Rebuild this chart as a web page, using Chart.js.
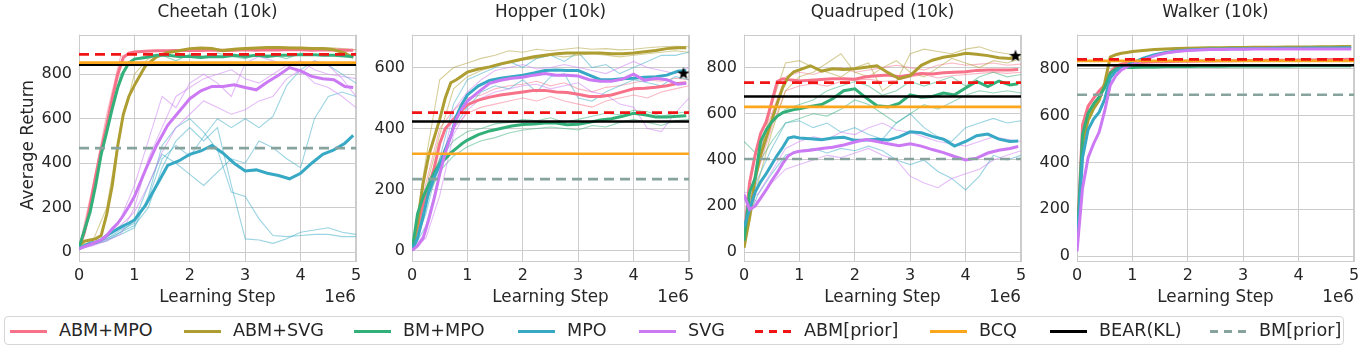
<!DOCTYPE html>
<html><head><meta charset="utf-8">
<script src="https://cdn.jsdelivr.net/npm/chart.js@4"></script>
<style>
body{margin:0;background:#fff;width:1360px;height:348px;position:relative;overflow:hidden;font-family:"DejaVu Sans",sans-serif;color:#262626}
canvas{position:absolute}
.t{position:absolute;font-size:16.8px;white-space:nowrap;line-height:1;color:#262626}
#legend{position:absolute;left:4px;top:316px;width:1340px;height:29px;border:1px solid #d6d6d6;border-radius:4px;box-sizing:border-box}
.ls{position:absolute;height:3px;width:37px;top:330px}
.lt{position:absolute;top:331px;font-size:17.6px;line-height:1;transform:translateY(-50%);white-space:nowrap;color:#262626}
</style></head><body>
<div id="legend"></div>
<script>
// ---------- data ----------
const X_MEAN = [0,0.1,0.2,0.3,0.4,0.5,0.6,0.7,0.8,0.9,1.0,1.2,1.4,1.6,1.8,2.0,2.2,2.4,2.6,2.8,3.0,3.2,3.4,3.6,3.8,4.0,4.2,4.4,4.6,4.8,4.95];
const X_SEED = [0,0.25,0.5,0.75,1.0,1.25,1.5,1.75,2.0,2.25,2.5,2.75,3.0,3.25,3.5,3.75,4.0,4.25,4.5,4.75,5.0];
const X_TICKS = [0,1,2,3,4,5];
const Y_TICKS_800 = [0,200,400,600,800];
const Y_TICKS_600 = [0,200,400,600];

const METHODS = ['ABM+MPO','ABM+SVG','BM+MPO','MPO','SVG'];
const METHOD_COLORS = ['#f77189','#ae9d31','#33b07a','#38a9c5','#cc7af4'];
const BASELINES = ['ABM[prior]','BCQ','BEAR(KL)','BM[prior]'];
const BASELINE_COLORS = ['#f01414','#fca61e','#000000','#86a39e'];
const BASELINE_DASHED = [true,false,false,true];

const TITLES = ['Cheetah (10k)','Hopper (10k)','Quadruped (10k)','Walker (10k)'];

// Cheetah means
const CH_ABM_MPO = [20,90,210,340,460,570,690,800,875,895,900, 903,905,905,906,908, 907,909,906,908,910, 908,910,909,911,910, 908,910,909,908,908];
const CH_ABM_SVG = [30,50,55,60,75,170,300,480,620,700,750, 838,878,898,905,915, 918,916,905,912,915, 918,920,920,918,918, 915,915,910,895,875];
const CH_BM_MPO  = [20,100,180,300,440,540,645,740,808,850,868, 875,885,885,880,880, 875,880,878,885,880, 885,880,885,885,888, 888,885,885,882,878];
const CH_MPO     = [15,30,40,45,55,75,90,105,118,130,145, 210,300,390,410,440, 455,480,445,400,365, 370,355,345,330,355, 400,440,460,490,525];
const CH_SVG     = [15,25,35,45,55,75,105,130,165,205,250, 370,480,570,630,690, 725,745,745,752,740, 730,765,795,830,815, 790,780,775,745,740];
const CH_BASE = [889,852,843,468];
// Cheetah seeds
const CH_SEEDS_ABM_MPO = [[20,300,620,880,900,905,905,910,908,912,910,908,910,912,915,912,910,912,910,912,910]];
const CH_SEEDS_ABM_SVG = [[30,50,200,560,800,870,890,900,905,910,912,915,918,920,920,922,920,918,920,915,910]];
const CH_SEEDS_BM_MPO  = [[20,250,540,800,870,880,885,860,890,880,895,880,870,890,885,870,895,890,885,890,885]];
const CH_SEEDS_MPO = [
  [15,40,60,90,120,200,380,500,560,500,560,300,60,55,40,60,90,100,110,90,80],
  [15,35,55,80,110,250,480,560,600,540,460,270,250,150,75,70,75,80,80,70,70],
  [15,40,60,100,130,240,420,480,430,520,600,560,600,560,610,750,820,860,840,800,760],
  [15,35,50,90,140,300,440,400,350,300,360,420,400,500,470,420,380,600,700,720,700]];
const CH_SEEDS_SVG = [
  [15,30,60,150,300,500,700,650,760,800,760,700,850,880,860,840,800,860,840,780,700],
  [15,35,70,120,180,300,450,560,620,680,650,620,640,680,700,780,820,760,740,700,650],
  [15,30,50,80,200,420,560,700,740,780,800,820,780,760,800,840,860,820,800,790,780]];

// Hopper means
const HO_ABM_MPO = [0,80,150,210,270,350,400,420,440,460,478, 493,503,510,515,520, 525,525,520,518,512, 505,505,510,520,530, 532,535,540,548,550];
const HO_ABM_SVG = [0,90,220,310,370,430,500,550,560,572,585, 595,602,612,620,628, 635,640,645,648,648, 648,648,645,645,648, 652,656,662,665,665];
const HO_BM_MPO  = [0,120,175,215,255,285,300,320,335,350,362, 380,392,400,408,413, 415,418,418,412,414, 420,428,432,440,450, 445,438,438,440,442];
const HO_MPO     = [0,40,110,190,240,280,330,375,440,480,510, 540,558,565,570,575, 582,590,592,590,590, 575,560,560,563,565, 568,570,575,588,590];
const HO_SVG     = [0,15,40,100,170,250,320,375,430,465,490, 520,548,558,565,568, 575,580,575,575,572, 560,555,555,562,578, 558,565,560,545,548];
const HO_BASE = [452,317,423,234];
const HO_SEEDS_ABM_MPO = [
  [0,220,400,460,500,510,530,540,545,555,540,550,530,520,535,540,550,560,555,565,560],
  [0,150,300,400,450,470,480,490,500,490,505,490,480,470,490,500,510,500,520,530,540]];
const HO_SEEDS_ABM_SVG = [
  [0,300,560,600,615,630,640,655,650,660,655,660,665,660,662,658,660,665,668,670,668],
  [0,200,380,530,570,590,605,615,625,630,640,635,640,645,640,635,640,645,650,655,650]];
const HO_SEEDS_BM_MPO = [
  [0,200,300,360,390,400,415,420,430,425,435,420,430,440,450,445,460,455,440,450,455],
  [0,160,260,310,340,360,370,385,395,400,405,400,395,410,405,420,430,420,410,425,430]];
const HO_SEEDS_MPO = [
  [0,120,300,480,560,580,600,620,600,630,640,620,650,600,610,580,600,620,640,640,650],
  [0,80,250,400,470,520,540,530,560,520,570,580,500,490,520,540,560,550,540,570,560]];
const HO_SEEDS_SVG = [
  [0,60,250,460,520,560,590,600,610,595,600,610,600,590,580,600,620,600,590,580,600],
  [0,40,180,380,460,500,520,530,540,545,530,540,550,520,510,480,470,400,390,450,500]];
const HO_STAR = [4.9, 580];

// Quadruped means
const QU_ABM_MPO = [60,300,420,515,565,650,740,752,748,745,742, 745,748,752,752,750, 760,765,768,760,768, 775,772,778,780,782, 788,790,790,790,792];
const QU_ABM_SVG = [20,150,320,420,495,570,645,715,760,782,790, 808,785,795,792,795, 802,808,778,752,765, 810,832,845,852,862, 858,852,843,840,850];
const QU_BM_MPO  = [50,260,320,480,530,565,590,605,612,618,622, 632,640,665,700,708, 670,635,630,645,682, 672,675,690,682,712, 740,718,742,725,730];
const QU_MPO     = [110,185,260,305,340,380,420,455,495,500,495, 492,488,495,498,485, 486,490,486,500,522, 518,502,490,460,480, 505,512,490,480,482];
const QU_SVG     = [250,185,200,235,270,310,345,385,418,432,438, 442,450,455,465,478, 488,480,470,462,470, 460,445,432,415,400, 408,430,442,450,458];
const QU_BASE = [735,630,675,404];
const QU_SEEDS_ABM_MPO = [
  [80,420,600,760,780,770,790,800,780,790,800,810,800,790,810,820,810,815,820,810,815],
  [40,350,540,700,720,730,720,740,745,750,740,745,760,770,755,765,770,775,780,775,780]];
const QU_SEEDS_ABM_SVG = [
  [20,380,640,820,830,800,780,760,800,820,700,740,860,880,870,860,880,890,870,860,850],
  [20,300,520,700,760,780,820,860,780,760,800,830,780,760,800,840,820,800,830,820,840]];
const QU_SEEDS_BM_MPO = [
  [480,420,560,620,640,660,700,720,740,720,680,700,740,720,740,760,720,760,780,760,770],
  [60,380,480,560,580,600,590,620,660,640,600,560,600,640,620,650,680,700,690,700,690]];
const QU_SEEDS_MPO = [
  [110,320,450,560,570,540,560,520,540,510,490,560,600,540,500,480,540,560,580,560,570],
  [100,250,340,420,440,450,430,450,440,460,440,400,380,400,350,320,270,330,420,400,420]];
const QU_SEEDS_SVG = [
  [240,220,300,360,380,400,420,410,430,450,420,400,330,300,280,320,340,360,400,420,440],
  [260,250,350,450,480,500,490,520,510,540,560,530,520,500,480,470,460,480,500,490,480]];
const QU_STAR = [4.9, 850];

// Walker means
const WA_ABM_MPO = [40,560,640,675,705,730,785,810,820,825,827, 828,830,830,832,832, 833,833,834,834,835, 835,836,836,837,838, 838,839,840,840,841];
const WA_ABM_SVG = [40,480,580,630,665,740,850,860,866,870,874, 878,882,885,887,888, 889,890,890,891,891, 892,892,892,893,893, 893,894,894,895,895];
const WA_BM_MPO  = [40,520,610,650,680,720,780,800,805,806,806, 808,808,810,810,810, 811,811,811,812,812, 812,812,812,812,813, 813,813,813,813,813];
const WA_MPO     = [40,420,540,585,615,670,760,790,805,815,825, 845,860,870,876,880, 882,884,885,886,886, 887,887,888,888,888, 889,889,889,890,890];
const WA_SVG     = [20,290,420,480,530,620,730,770,795,808,818, 838,855,867,874,878, 880,882,882,883,883, 884,884,884,884,885, 885,885,885,885,885];
const WA_BASE = [840,834,815,689];

// ---------- layout ----------
const PLOT_LEFTS = [79,412,744,1077];
const PLOT_W = 277, PLOT_TOP = 28, PLOT_H = 234;
const Y_RANGES = [[-44,978],[-38,708],[-42,943],[-25,946]];

const PANELS = [
  {means:[CH_ABM_MPO,CH_ABM_SVG,CH_BM_MPO,CH_MPO,CH_SVG], seeds:[CH_SEEDS_ABM_MPO,CH_SEEDS_ABM_SVG,CH_SEEDS_BM_MPO,CH_SEEDS_MPO,CH_SEEDS_SVG], base:CH_BASE, ticks:Y_TICKS_800, star:null},
  {means:[HO_ABM_MPO,HO_ABM_SVG,HO_BM_MPO,HO_MPO,HO_SVG], seeds:[HO_SEEDS_ABM_MPO,HO_SEEDS_ABM_SVG,HO_SEEDS_BM_MPO,HO_SEEDS_MPO,HO_SEEDS_SVG], base:HO_BASE, ticks:Y_TICKS_600, star:HO_STAR},
  {means:[QU_ABM_MPO,QU_ABM_SVG,QU_BM_MPO,QU_MPO,QU_SVG], seeds:[QU_SEEDS_ABM_MPO,QU_SEEDS_ABM_SVG,QU_SEEDS_BM_MPO,QU_SEEDS_MPO,QU_SEEDS_SVG], base:QU_BASE, ticks:Y_TICKS_800, star:QU_STAR},
  {means:[WA_ABM_MPO,WA_ABM_SVG,WA_BM_MPO,WA_MPO,WA_SVG], seeds:[[],[],[],[],[]], base:WA_BASE, ticks:Y_TICKS_800, star:null}
];

function pts(xs, ys){ return ys.map((y,i)=>({x:xs[i], y:y})); }
function alpha(hex, a){ const n=parseInt(hex.slice(1),16); return `rgba(${n>>16},${(n>>8)&255},${n&255},${a})`; }
function starImg(){
  const c=document.createElement('canvas'); c.width=c.height=14;
  const g=c.getContext('2d'); g.fillStyle='#000'; g.beginPath();
  for(let i=0;i<10;i++){ const r=i%2?2.7:6.6; const a=-Math.PI/2+i*Math.PI/5; g.lineTo(7+r*Math.cos(a),7+r*Math.sin(a)); }
  g.closePath(); g.fill(); return c;
}
const frame = {id:'frame', beforeDatasetsDraw(chart){
  const a=chart.chartArea, g=chart.ctx; g.save(); g.strokeStyle='#cccccc'; g.lineWidth=1;
  g.strokeRect(Math.round(a.left)+0.5, Math.round(a.top)+0.5, Math.round(a.right-a.left)-1, Math.round(a.bottom-a.top)-1); g.restore();
}};

function addText(txt, cx, cy, opts={}){
  const d=document.createElement('div'); d.className='t'; d.textContent=txt;
  d.style.left=cx+'px'; d.style.top=cy+'px';
  d.style.transform = opts.rot ? 'translate(-50%,-50%) rotate(-90deg)' : (opts.right ? 'translate(-100%,-50%)' : 'translate(-50%,-50%)');
  document.body.appendChild(d);
}

const YW=60, XH=30, PT=10, PR=12;
PANELS.forEach((p, k)=>{
  const left = PLOT_LEFTS[k];
  const cv=document.createElement('canvas');
  const W=YW+PLOT_W+PR, H=PT+PLOT_H+XH;
  cv.width=W; cv.height=H; cv.style.width=W+'px'; cv.style.height=H+'px';
  cv.style.left=(left-YW)+'px'; cv.style.top=(PLOT_TOP-PT)+'px';
  document.body.appendChild(cv);
  const ds=[];
  p.seeds.forEach((list, m)=>list.forEach(s=>ds.push({data:pts(X_SEED,s), borderColor:alpha(METHOD_COLORS[m],0.5), borderWidth:1.1, pointRadius:0, order:200-m})));
  p.means.forEach((s, m)=>ds.push({data:pts(X_MEAN,s), borderColor:METHOD_COLORS[m], borderWidth:3, pointRadius:0, order:100-m}));
  const border=[3,1,0,2];
  p.base.forEach((v, b)=>ds.push({data:[{x:0,y:v},{x:5,y:v}], borderColor:BASELINE_COLORS[b], borderWidth:2.6, borderDash:BASELINE_DASHED[b]?[10,6]:[], pointRadius:0, order:20-border[b]}));
  if(p.star) ds.push({data:[{x:p.star[0],y:p.star[1]}], showLine:false, pointStyle:starImg(), pointRadius:7, order:0});
  new Chart(cv,{type:'line', data:{datasets:ds}, plugins:[frame], options:{
    responsive:false, animation:false, devicePixelRatio:1, events:[],
    layout:{padding:{top:PT,right:PR,left:0,bottom:0}},
    plugins:{legend:{display:false}, tooltip:{enabled:false}},
    scales:{
      x:{type:'linear', min:0, max:5,
         afterBuildTicks(s){ s.ticks=X_TICKS.map(v=>({value:v})); },
         afterFit(s){ s.height=XH; },
         grid:{color:'#cccccc', lineWidth:1, drawTicks:false}, border:{display:false},
         ticks:{padding:4, color:'#262626', font:{family:'DejaVu Sans', size:16}, maxRotation:0, callback:v=>String(v)}},
      y:{type:'linear', min:Y_RANGES[k][0], max:Y_RANGES[k][1],
         afterBuildTicks(s){ s.ticks=p.ticks.map(v=>({value:v})); },
         afterFit(s){ s.width=YW; },
         grid:{color:'#cccccc', lineWidth:1, drawTicks:false}, border:{display:false},
         ticks:{padding:7, color:'#262626', font:{family:'DejaVu Sans', size:16}, callback:v=>String(v)}}
    }}});
  addText(TITLES[k], left+PLOT_W/2, 11);
  addText('Learning Step', left+PLOT_W/2, 296);
  addText('1e6', left+PLOT_W, 296, {right:true});
});
addText('Average Return', 27, 145, {rot:true});

// legend
const LEG_X = [10,184,354,518,639,755,930,1050,1210];
const LEG_LABELS = METHODS.concat(BASELINES);
const LEG_COLORS = METHOD_COLORS.concat(BASELINE_COLORS);
const LEG_DASH = [false,false,false,false,false].concat(BASELINE_DASHED);
LEG_LABELS.forEach((lab,i)=>{
  const s=document.createElement('div'); s.className='ls'; s.style.left=LEG_X[i]+'px';
  s.style.background = LEG_DASH[i] ? `repeating-linear-gradient(to right, ${LEG_COLORS[i]} 0 8px, transparent 8px 14px)` : LEG_COLORS[i];
  document.body.appendChild(s);
  const t=document.createElement('div'); t.className='lt'; t.textContent=lab; t.style.left=(LEG_X[i]+49)+'px';
  document.body.appendChild(t);
});
</script>
</body></html>
